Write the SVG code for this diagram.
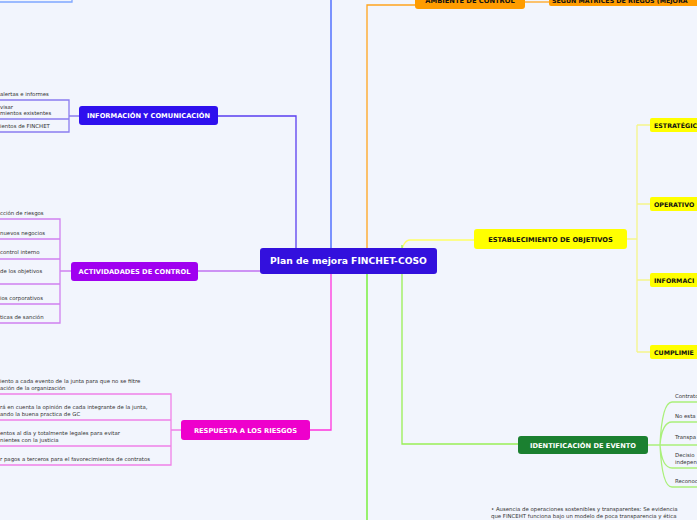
<svg xmlns="http://www.w3.org/2000/svg" width="697" height="520" viewBox="0 0 697 520">
<style>
.n{font-family:"DejaVu Sans",Verdana,sans-serif;font-weight:bold;font-size:6.7px}
.c{font-size:9.2px}.s{font-size:6.3px}
.t{font-family:"DejaVu Sans",Verdana,sans-serif;font-size:5.4px;fill:#333}
.w{fill:#fff}.k{fill:#111}
</style>
<rect width="697" height="520" fill="#f2f5fd"/>
<g id="connectors" fill="none" stroke-width="1.3">
<path d="M0 2H72V-5" stroke="#7fa6ff"/>
<path d="M331 248V0" stroke="#3a5cff"/>
<path d="M367 248V5H415" stroke="#ffa41e"/>
<path d="M525 2H549" stroke="#ffa41e"/>
<path d="M367 274V520" stroke="#66ee22"/>
<path d="M296 248V116H218" stroke="#5a3ef0"/>
<path d="M260 271H198" stroke="#c070f0"/>
<path d="M331 274V430H310" stroke="#ff33dd"/>
<path d="M437 261H400Q402 240 410 240H474" stroke="#ffff66"/>
<path d="M402 245V444H518" stroke="#99ee55"/>
<path d="M627 239H637M637 125V352M637 125H650M637 204H650M637 280H650M637 352H650" stroke="#f5f58a"/>
<path d="M647 445H660M660 445Q662 402 672 402H697M660 445Q662 422 672 422H697M660 445H697M660 445Q662 468 672 468H697M660 445Q662 487 672 487H697" stroke="#aaf07a"/>
<path d="M79 116H69M0 100H69V132H0M0 119H69" stroke="#8a7cf0"/>
<path d="M71 271H60M0 219H60V323H0M0 239H60M0 259H60M0 284H60M0 304H60" stroke="#d080f0"/>
<path d="M181 430H171M0 394H171V465H0M0 420H171M0 446H171" stroke="#f080e8"/>
</g>
<g id="center"><rect x="260" y="248" width="177" height="26" rx="3" fill="#3310dd"/><text x="348.5" y="264.3" text-anchor="middle" class="n c w">Plan de mejora FINCHET-COSO</text></g>
<g id="info"><rect x="79" y="106" width="139" height="19" rx="3" fill="#2f10ee"/><text x="148.5" y="118" text-anchor="middle" class="n w">INFORMACIÓN Y COMUNICACIÓN</text>
<text x="0" y="96" class="t">alertas e informes</text><text x="0" y="109" class="t">visar</text><text x="0" y="115" class="t">mientos existentes</text><text x="0" y="128" class="t">ientos de FINCHET</text></g>
<g id="act"><rect x="71" y="262" width="127" height="19" rx="3" fill="#a000f0"/><text x="134.5" y="274" text-anchor="middle" class="n w">ACTIVIDADADES DE CONTROL</text>
<text x="0" y="215" class="t">cción de riesgos</text><text x="0" y="235" class="t">nuevos negocios</text><text x="0" y="254" class="t">control interno</text><text x="0" y="273" class="t">de los objetivos</text><text x="0" y="300" class="t">ios corporativos</text><text x="0" y="319" class="t">ticas de sanción</text></g>
<g id="resp"><rect x="181" y="420" width="129" height="20" rx="3" fill="#ee00cc"/><text x="245.5" y="432.5" text-anchor="middle" class="n w">RESPUESTA  A LOS RIESGOS</text>
<text x="0" y="383" class="t">iento a cada evento de la junta para que no se filtre</text><text x="0" y="390" class="t">ación de la organización</text>
<text x="0" y="409" class="t">rá en cuenta la opinión de cada integrante de la junta,</text><text x="0" y="416" class="t">ando la buena practica de GC</text>
<text x="0" y="435" class="t">entos al día y totalmente legales para evitar</text><text x="0" y="442" class="t">nientes con la justicia</text>
<text x="0" y="461" class="t">r pagos a terceros para el favorecimientos de contratos</text></g>
<g id="amb"><rect x="415" y="-10" width="110" height="19" rx="3" fill="#ff9c00"/><text x="470" y="3" text-anchor="middle" class="n k">AMBIENTE DE CONTROL</text>
<rect x="549" y="-5" width="160" height="11" rx="2" fill="#ff9c00"/><text x="552" y="3" class="n s k">SEGÚN MATRICES DE RIEGOS (MEJORA</text></g>
<g id="est"><rect x="474" y="229" width="153" height="20" rx="3" fill="#ffff00"/><text x="550.5" y="241.5" text-anchor="middle" class="n k">ESTABLECIMIENTO DE OBJETIVOS</text>
<rect x="650" y="118" width="60" height="14" rx="2" fill="#ffff00"/><text x="654" y="127.5" class="n s k">ESTRATÉGIC</text>
<rect x="650" y="197" width="60" height="14" rx="2" fill="#ffff00"/><text x="654" y="206.5" class="n s k">OPERATIVO</text>
<rect x="650" y="273" width="60" height="14" rx="2" fill="#ffff00"/><text x="654" y="282.5" class="n s k">INFORMACI</text>
<rect x="650" y="345" width="60" height="14" rx="2" fill="#ffff00"/><text x="654" y="354.5" class="n s k">CUMPLIMIE</text></g>
<g id="ident"><rect x="518" y="436" width="130" height="18" rx="3" fill="#1b8030"/><text x="583" y="447.5" text-anchor="middle" class="n w">IDENTIFICACIÓN DE EVENTO</text>
<text x="675" y="398" class="t">Contrato</text><text x="675" y="418" class="t">No esta</text><text x="675" y="439" class="t">Transpa</text><text x="675" y="457" class="t">Decisio</text><text x="675" y="464" class="t">indepen</text><text x="675" y="483" class="t">Reconoc</text></g>
<g id="note"><text x="491" y="511" class="t">• Ausencia de operaciones  sostenibles y transparentes: Se evidencia</text><text x="491" y="518" class="t">que FINCEHT funciona bajo un modelo de poca transparencia y ética</text></g>
</svg>
